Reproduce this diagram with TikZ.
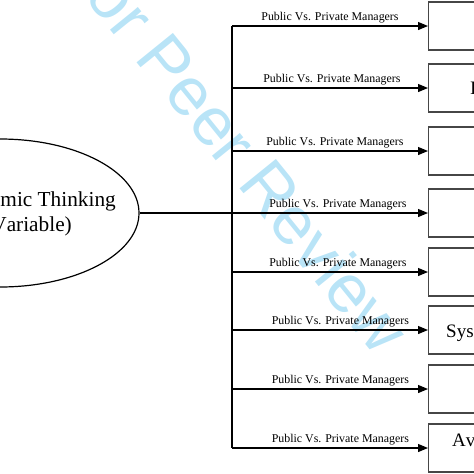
\documentclass[tikz,border=0pt]{standalone}
\usepackage{fontspec}
\setmainfont{Liberation Serif}[Kerning=Off]
\newfontfamily\wmfont{Liberation Sans}
\usetikzlibrary{arrows.meta,shapes.geometric}
\definecolor{wmcyan}{RGB}{185,228,247}
\definecolor{boxgray}{RGB}{70,70,70}
\tikzset{
  lbl/.style={font=\fontsize{11.9}{13}\selectfont, text=black, inner sep=0pt, anchor=base, yshift=5.5pt},
  arr/.style={line width=1.2pt, -{Triangle[length=10pt,width=8pt]}},
  stem/.style={line width=1.2pt},
  outbox/.style={draw=boxgray, line width=1.4pt, rectangle, minimum width=120pt, minimum height=48pt, anchor=west, inner sep=0pt},
  boxtxt/.style={font=\fontsize{19}{22}\selectfont, inner sep=0pt, anchor=base west},
  elltxt/.style={font=\fontsize{21.3}{24}\selectfont, inner sep=0pt, anchor=base east},
  wm/.style={font=\wmfont\fontsize{68}{68}\selectfont, text=wmcyan, rotate=-51, inner sep=0pt}
}
\begin{document}
\begin{tikzpicture}[x=1pt,y=-1pt]
\useasboundingbox (0,0) rectangle (474,474);
\clip (0,0) rectangle (474,474);
\node[wm] (mark) at (236,146) {For Peer Review};
% ellipse
\node[draw, line width=1.2pt, ellipse, minimum width=278pt, minimum height=148pt, inner sep=0pt] (ell) at (0,213) {};
\node[elltxt] (e1) at (116,206) {Systemic Thinking};
\node[elltxt] (e2) at (72,231) {(Independent Variable)};
% boxes
\node[outbox] (b1) at (428,26) {};
\node[outbox] (b2) at (428,88) {};
\node[outbox] (b3) at (428,151) {};
\node[outbox] (b4) at (428,213) {};
\node[outbox] (b5) at (428,272) {};
\node[outbox] (b6) at (428,330) {};
\node[outbox] (b7) at (428,389) {};
\node[outbox] (b8) at (428,448) {};
\node[boxtxt] (x2) at (470,94) {I};
\node[boxtxt] (x6) at (446,337) {Sys};
\node[boxtxt] (x8) at (452,446) {Av};
% trunk
\coordinate (t1) at (232,26);
\coordinate (t2) at (232,88);
\coordinate (t3) at (232,151);
\coordinate (t4) at (232,213);
\coordinate (t5) at (232,272);
\coordinate (t6) at (232,330);
\coordinate (t7) at (232,389);
\coordinate (t8) at (232,448);
\draw[stem] (t1) -- (t8);
\draw[stem] (ell.east) -- (t4);
\draw[arr] (t1) -- node[lbl, pos=0.50] {Public Vs. Private Managers} (b1.west);
\draw[arr] (t2) -- node[lbl, pos=0.51] {Public Vs. Private Managers} (b2.west);
\draw[arr] (t3) -- node[lbl, pos=0.525] {Public Vs. Private Managers} (b3.west);
\draw[arr] (t4) -- node[lbl, pos=0.54] {Public Vs. Private Managers} (b4.west);
\draw[arr] (t5) -- node[lbl, pos=0.54] {Public Vs. Private Managers} (b5.west);
\draw[arr] (t6) -- node[lbl, pos=0.553] {Public Vs. Private Managers} (b6.west);
\draw[arr] (t7) -- node[lbl, pos=0.553] {Public Vs. Private Managers} (b7.west);
\draw[arr] (t8) -- node[lbl, pos=0.553] {Public Vs. Private Managers} (b8.west);
\end{tikzpicture}
\end{document}
